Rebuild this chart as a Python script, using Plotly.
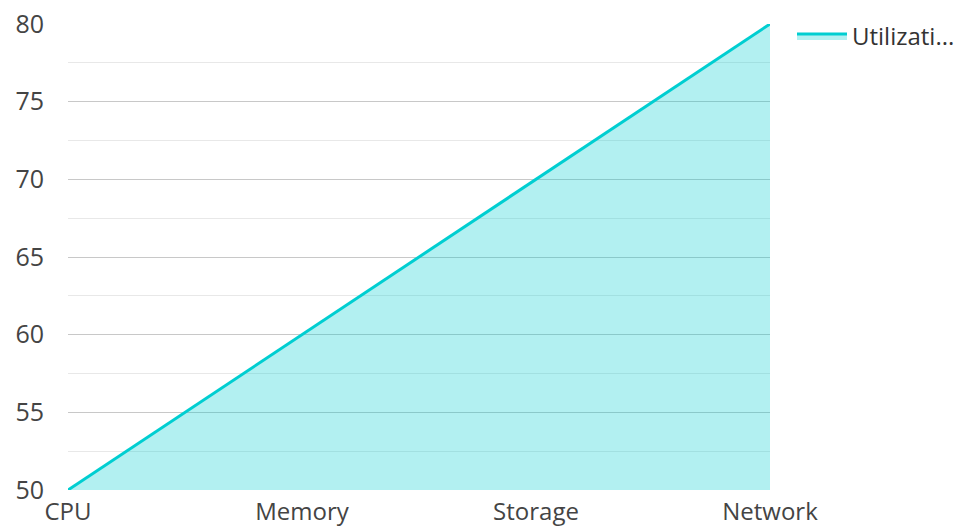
import plotly.graph_objects as go

categories = ["CPU", "Memory", "Storage", "Network"]
utilization = [50, 60, 70, 80]
series_name = "Utilizati..."

fig = go.Figure()
fig.add_trace(go.Scatter(
    x=categories, y=utilization, name=series_name,
    mode="lines", fill="tozeroy",
    line=dict(color="#00CED1", width=3),
    fillcolor="rgba(0,206,209,0.3)",
    showlegend=True,
))

fig.update_layout(
    width=962, height=531,
    margin=dict(l=68, r=192, t=24, b=41, autoexpand=False),
    plot_bgcolor="white", paper_bgcolor="white",
    font=dict(family="Open Sans", size=25, color="#444"),
    showlegend=True,
    legend=dict(xref="container", yref="container",
                x=792 / 962, y=1 - 14 / 531, xanchor="left", yanchor="top",
                itemwidth=50,
                font=dict(size=24, color="#333"), bgcolor="rgba(0,0,0,0)"),
    xaxis=dict(range=[0, 3], showgrid=False, zeroline=False, showline=False,
               ticks="", ticklabelstandoff=5, automargin=False,
               tickfont=dict(size=24)),
    yaxis=dict(range=[50, 80], dtick=5, showgrid=True, gridcolor="#c8c8c8",
               gridwidth=1, zeroline=False, showline=False, ticks="",
               ticklabelstandoff=23, automargin=False,
               minor=dict(dtick=2.5, showgrid=True, gridcolor="#e8e8e8", gridwidth=1)),
)

fig.write_html("out.html")
